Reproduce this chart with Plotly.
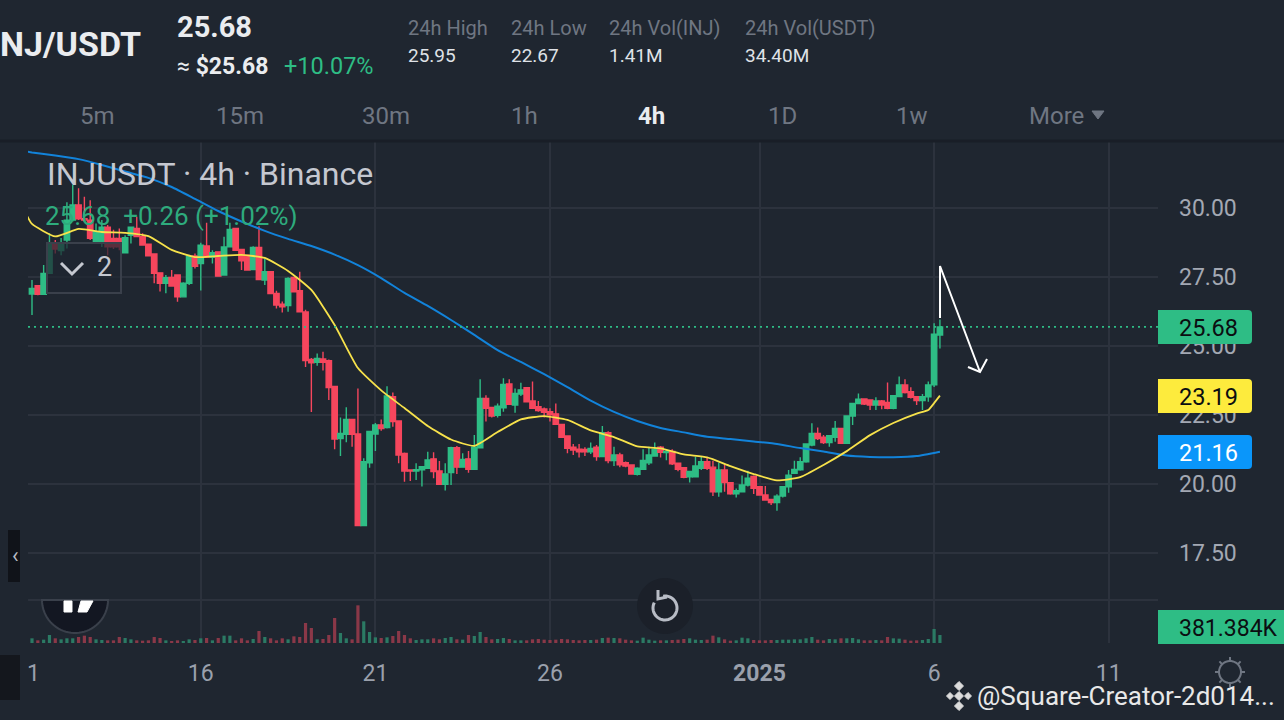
import numpy as np
import pandas as pd
import plotly.graph_objects as go

# 4h candles
open_prices = [
    26.87,27.17,26.86,27.62,28.7,28.45,28.83,29.55,30.1,29.6,
    29.55,28.77,28.77,29.29,28.89,28.89,28.37,29.0,29.25,28.95,
    28.68,28.32,27.64,27.26,27.47,27.56,26.77,27.26,28.25,27.98,
    28.61,28.2,28.4,27.56,28.58,29.25,28.49,28.28,27.76,28.56,
    27.38,27.68,26.89,26.5,26.45,27.47,26.99,26.22,24.5,24.4,
    24.52,24.46,23.52,21.64,21.79,22.33,21.8,18.48,20.76,21.8,
    22.13,22.03,23.15,22.27,21.1,20.5,20.46,20.5,20.56,20.9,
    20.46,19.98,20.4,21.3,20.6,20.9,20.52,21.3,23.09,22.76,
    22.48,22.75,23.61,22.85,23.25,23.48,23.0,22.79,22.71,22.61,
    22.53,22.15,21.73,21.32,21.25,21.24,21.16,21.32,20.98,21.85,
    20.84,21.04,20.76,20.68,20.34,20.52,20.76,21.0,21.32,21.13,
    21.17,20.74,20.58,20.25,20.25,20.56,20.8,20.6,19.71,20.5,
    20.04,19.63,19.71,19.95,20.26,19.89,19.59,19.43,19.32,19.55,
    19.89,20.38,20.5,20.79,21.4,21.82,21.68,21.49,21.68,22.0,
    21.46,22.45,22.9,23.07,23.03,22.85,23.0,22.94,22.73,23.16,
    23.58,23.33,23.15,23.01,23.15,23.58,25.39]
high_prices = [
    27.38,27.2,27.92,29.07,28.83,28.9,30.2,30.82,30.7,30.4,
    30.27,29.43,29.55,29.37,29.2,29.25,29.0,29.3,29.67,29.07,
    28.7,28.34,27.65,27.56,27.74,27.56,27.3,28.28,28.34,28.73,
    29.45,28.46,28.42,28.95,29.45,29.27,28.5,28.29,28.6,29.33,
    28.16,27.7,26.99,26.6,27.48,27.48,27.68,26.3,24.55,24.72,
    24.78,24.5,23.55,22.4,22.77,22.35,23.45,20.92,21.9,22.2,
    22.33,23.53,23.3,22.28,21.13,20.5,20.74,20.62,21.16,21.14,
    20.82,20.74,21.34,21.37,21.1,21.18,21.76,23.78,23.2,22.76,
    22.91,23.82,23.78,23.45,23.66,23.49,23.7,23.0,22.76,22.73,
    22.91,22.16,21.74,21.44,21.44,21.32,21.49,21.4,22.09,21.9,
    21.34,21.12,20.8,20.7,20.6,21.25,21.34,21.49,21.37,21.22,
    21.25,20.75,20.6,20.44,20.98,20.98,20.96,20.83,20.76,20.71,
    20.05,19.83,20.3,20.47,20.3,19.9,19.92,19.45,19.62,19.9,
    20.5,20.83,20.96,21.44,22.19,22.04,21.76,21.76,22.27,22.0,
    22.46,22.92,23.27,23.1,23.06,23.13,23.03,23.67,23.2,23.88,
    23.78,23.49,23.18,23.25,23.7,25.81,25.95]
low_prices = [
    26.11,26.83,26.85,27.6,28.34,28.28,28.52,29.5,29.55,29.5,
    28.83,28.7,28.58,28.28,28.5,28.46,28.35,28.7,28.94,28.64,
    28.25,27.26,26.96,26.9,27.14,26.59,26.75,27.2,27.8,27.0,
    28.2,27.98,27.5,27.55,28.57,28.43,27.74,27.72,27.74,27.37,
    27.2,26.87,26.35,26.2,26.23,26.93,26.22,24.23,22.6,24.27,
    24.1,23.03,21.25,21.0,21.5,21.34,18.48,18.48,20.58,21.18,
    21.92,22.0,22.06,20.74,20.07,20.1,20.13,19.9,20.55,20.2,
    19.97,19.75,19.95,20.35,20.59,20.4,20.5,21.28,22.25,22.4,
    22.4,22.61,22.87,22.57,23.18,22.96,22.72,22.61,22.4,22.25,
    22.13,21.67,21.1,21.04,20.95,21.0,21.08,20.83,20.97,20.74,
    20.64,20.6,20.6,20.34,20.3,20.5,20.68,20.98,20.95,20.85,
    20.68,20.45,20.2,20.04,20.23,20.5,20.5,19.55,19.53,19.71,
    19.6,19.5,19.68,19.9,19.63,19.57,19.38,19.23,19.02,19.5,
    19.67,20.35,20.47,20.76,21.36,21.58,21.44,21.34,21.52,21.45,
    21.45,22.13,22.88,22.85,22.67,22.67,22.7,22.7,22.7,23.14,
    23.27,23.09,22.85,22.67,22.97,23.5,24.9]
close_prices = [
    27.07,26.86,27.62,28.7,28.5,28.7,29.55,30.1,29.6,29.55,
    28.89,29.13,29.29,28.58,28.58,28.58,28.91,29.29,28.95,28.65,
    28.26,27.62,27.26,27.46,27.16,26.77,27.26,28.25,27.88,28.64,
    28.2,28.37,27.52,28.58,29.21,28.46,28.08,27.74,28.56,27.4,
    27.68,26.89,26.47,26.41,27.44,26.95,26.23,24.46,24.38,24.54,
    24.4,23.48,21.62,21.82,22.33,21.79,18.48,20.8,21.89,22.13,
    22.0,23.18,22.25,21.04,20.46,20.46,20.51,20.62,20.86,20.44,
    19.98,20.35,21.3,20.6,20.88,20.52,21.32,23.09,22.73,22.45,
    22.81,23.6,22.88,23.27,23.4,22.97,22.73,22.65,22.59,22.5,
    22.15,21.68,21.28,21.22,21.16,21.16,21.28,20.98,21.85,20.84,
    21.04,20.68,20.64,20.35,20.56,20.84,21.04,21.24,21.14,21.17,
    20.72,20.52,20.23,20.44,20.64,20.8,20.56,19.71,20.5,20.04,
    19.63,19.75,19.95,20.2,19.83,19.59,19.41,19.32,19.55,19.89,
    20.31,20.52,20.8,21.44,21.82,21.64,21.49,21.74,22.0,21.46,
    22.45,22.91,23.06,22.89,22.85,23.0,22.85,22.73,23.19,23.58,
    23.3,23.13,23.01,23.15,23.58,25.42,25.68]
# volume in thousands
volumes_k = [
    223,127,159,382,223,175,223,223,286,350,
    286,175,143,127,127,286,239,175,127,111,
    127,286,239,127,95,127,95,175,143,223,
    239,127,239,350,350,127,223,127,191,572,
    286,223,127,223,175,318,286,954,716,175,
    191,382,1193,477,223,175,1797,1034,525,270,
    239,270,334,572,382,223,143,175,175,223,
    175,239,286,175,159,382,334,525,286,175,
    191,239,191,127,127,127,175,191,159,143,
    159,191,175,143,127,143,143,159,239,254,
    239,223,159,127,111,254,159,111,127,127,
    143,159,191,223,159,143,159,350,270,175,
    111,127,254,223,143,127,127,143,143,159,
    159,175,175,223,286,159,127,191,175,223,
    223,239,175,127,127,143,127,286,223,207,
    159,111,127,143,191,668,381]

# moving averages, sampled at some candles
yellow_idx = [-1,0,4,8,12,16,20,24,28,32,36,40,44,48,52,56,60,64,68,72,76,80,84,88,92,
              96,100,104,108,112,116,120,124,128,132,136,140,144,148,152,154,155,156]
yellow_ma = [29.77,29.41,28.96,29.23,29.12,29.09,28.97,28.47,28.21,28.25,28.29,28.18,27.71,
             27.02,25.75,24.19,23.38,22.74,22.09,21.6,21.37,21.87,22.33,22.45,22.31,
             21.93,21.69,21.35,21.28,21.06,20.95,20.64,20.35,20.12,20.24,20.68,21.18,
             21.76,22.2,22.54,22.67,22.92,23.19]
blue_idx = [-1,0,4,8,12,16,20,24,28,32,36,40,44,48,52,56,60,64,68,72,76,80,84,88,92,96,
            100,104,108,112,116,120,124,128,132,136,140,144,148,152,156]
blue_ma = [32.04,32.0,31.89,31.76,31.55,31.31,31.08,30.75,30.32,29.88,29.5,29.16,28.87,28.61,
           28.3,27.92,27.45,26.91,26.44,25.93,25.39,24.84,24.41,23.97,23.5,23.01,
           22.6,22.27,22.02,21.86,21.7,21.62,21.53,21.44,21.29,21.17,21.02,20.97,20.96,21.0,21.16]

price_ticks = [17.5, 20, 22.5, 25, 27.5, 30]
date_ticks = ["2024-12-16", "2024-12-21", "2024-12-26", "2025-01-01", "2025-01-06", "2025-01-11"]
date_labels = ["16", "21", "26", "<b>2025</b>", "6", "11"]

last_price = 25.68
stats_head = ["24h High", "24h Low", "24h Vol(INJ)", "24h Vol(USDT)"]
stats_vals = ["25.95", "22.67", "1.41M", "34.40M"]
intervals = ["5m", "15m", "30m", "1h", "4h", "1D", "1w", "More"]

BG = "#1f2630"
GRID = "#2c323d"
GREEN = "#2ebd85"
RED = "#f6465d"
W, H = 1284, 720


def px(x):
    return x / W


def py(y):
    return 1 - y / H


def label(x, y, text, size, color, anchor="left", font="Roboto", bg=None):
    fig.add_annotation(x=px(x), y=py(y), xref="paper", yref="paper", text=text, showarrow=False,
                       xanchor=anchor, yanchor="middle", bgcolor=bg, borderpad=0,
                       font=dict(family=font, size=size, color=color))


def pline(points, color, width=2, fill=None, close=False, layer="above"):
    d = "M " + " L ".join(f"{px(a):.5f},{py(b):.5f}" for a, b in points) + (" Z" if close else "")
    fig.add_shape(type="path", path=d, xref="paper", yref="paper", layer=layer,
                  line=dict(color=color, width=width), fillcolor=fill)


def price_box(x0, x1, y0, y1, color):
    # rounded only on the right
    d = (f"M {px(x0)},{py(y0)} L {px(x1-4)},{py(y0)} Q {px(x1)},{py(y0)} {px(x1)},{py(y0+4)} "
         f"L {px(x1)},{py(y1-4)} Q {px(x1)},{py(y1)} {px(x1-4)},{py(y1)} L {px(x0)},{py(y1)} Z")
    fig.add_shape(type="path", path=d, xref="paper", yref="paper", layer="above",
                  line=dict(width=0), fillcolor=color)


t0 = pd.Timestamp("2024-12-11 04:00")
step = pd.Timedelta(hours=4)
times = pd.date_range(t0, periods=len(close_prices), freq="4h")
vol_colors = ["#2b7a64" if c >= o else "#8a3848" for o, c in zip(open_prices, close_prices)]

fig = go.Figure()
fig.add_trace(go.Bar(x=times, y=[v * 1000 for v in volumes_k], yaxis="y2", marker=dict(color=vol_colors, line_width=0),
                     width=[3.2 / 5.82 * step.total_seconds() * 1000] * len(times)))
fig.add_trace(go.Candlestick(x=times, open=open_prices, high=high_prices, low=low_prices, close=close_prices,
                             increasing=dict(line=dict(color=GREEN, width=1.4), fillcolor=GREEN),
                             decreasing=dict(line=dict(color=RED, width=1.4), fillcolor=RED),
                             whiskerwidth=0))
fig.add_trace(go.Scatter(x=[t0 + step * i for i in blue_idx], y=blue_ma, mode="lines",
                         line=dict(color="#1283da", width=2, shape="spline", smoothing=0.5)))
fig.add_trace(go.Scatter(x=[t0 + step * i for i in yellow_idx], y=yellow_ma, mode="lines",
                         line=dict(color="#f7e24b", width=1.8, shape="spline", smoothing=0.5)))

fig.update_layout(
    width=W, height=H, margin=dict(l=0, r=0, t=0, b=0), showlegend=False,
    paper_bgcolor=BG, plot_bgcolor=BG, boxgap=0.08, boxgroupgap=0,
    xaxis=dict(type="date", domain=[px(28), px(1158)], anchor="y2", rangeslider=dict(visible=False),
               range=[t0 - step * 0.687, t0 + step * 193.47], tickvals=date_ticks, ticktext=date_labels,
               showgrid=True, gridcolor=GRID, gridwidth=2, zeroline=False, showline=False, ticks="",
               ticklabelstandoff=14, tickfont=dict(family="Roboto", size=23, color="#9aa0ac")),
    yaxis=dict(domain=[py(600), py(142)], range=[15.786, 32.38], side="right", anchor="x",
               tickvals=price_ticks, tickformat=".2f", showgrid=True, gridcolor=GRID, gridwidth=2,
               zeroline=False, showline=False, ticks="", ticklabelstandoff=20,
               tickfont=dict(family="Roboto", size=23, color="#a3a8b3")),
    yaxis2=dict(domain=[py(643), py(600)], range=[0, 2051000], anchor="x", side="right",
                showgrid=False, zeroline=False, showticklabels=False, ticks=""),
)

# last price dotted line, pane separator
fig.add_shape(type="line", xref="paper", yref="y", x0=px(28), x1=px(1158), y0=last_price, y1=last_price,
              line=dict(color=GREEN, width=1.6, dash="2px,4px"), layer="above")
pline([(28, 600), (1158, 600)], GRID, 2, layer="below")
pline([(0, 141), (W, 141)], "#191e27", 3)

# header
label(142, 44, "<b>INJ/USDT</b>", 34, "#eaecef", "right")
label(176, 27, "<b>25.68</b>", 29, "#eaecef")
label(176, 66, "≈ <b>$25.68</b>", 23, "#eaecef")
label(283, 66, "+10.07%", 23.5, GREEN)
for x, a, b in zip([407, 510, 608, 744], stats_head, stats_vals):
    label(x, 28, a, 20, "#6f7682")
    label(x, 56, b, 19, "#dfe2e7")
for x, t in zip([97, 240, 386, 524, 652, 782, 912, 1056], intervals):
    if t == "4h":
        label(x, 116, "<b>4h</b>", 24, "#eaecef", "center")
    else:
        label(x, 116, t, 24, "#6f7682", "center")
pline([(1092, 111), (1104, 111), (1098, 119)], "#6f7682", 1, "#6f7682", True)

# chart legend
label(46, 174, "INJUSDT · 4h · Binance", 32, "#c5c8d0")
label(44, 216, "25.68  +0.26 (+1.02%)", 26, "#2eab7d")
fig.add_shape(type="rect", xref="paper", yref="paper", x0=px(47), x1=px(121), y0=py(293), y1=py(243), layer="above",
              line=dict(color="#3a404b", width=2), fillcolor="rgba(31,38,48,0.72)")
pline([(61, 263), (72, 274), (83, 263)], "#c5c8d0", 3)
label(104, 267, "2", 27, "#c5c8d0", "center")

# axis price tags
price_box(1158, 1252, 310, 344, GREEN)
label(1208, 328, "25.68", 23.5, "#0b0e11", "center")
price_box(1158, 1252, 379, 413, "#fdeb3d")
label(1208, 397, "23.19", 23.5, "#0b0e11", "center")
price_box(1158, 1252, 435, 469, "#0a96fa")
label(1208, 453, "21.16", 23.5, "#ffffff", "center")
price_box(1158, 1290, 610, 644, GREEN)
label(1178, 628, "381.384K", 23, "#0b0e11")

# hand drawn arrow
pline([(940, 318), (940, 266), (980, 372)], "#ffffff", 2)
pline([(968, 367), (980, 372), (987, 359)], "#ffffff", 2)

# left handle and cut off date label
fig.add_shape(type="rect", xref="paper", yref="paper", x0=px(8), x1=px(20), y0=py(582), y1=py(530), layer="above",
              line=dict(width=0), fillcolor="#101319")
label(15, 555, "‹", 22, "#b8bcc5", "center")
label(33, 673, "1", 23, "#9aa0ac", "center")
fig.add_shape(type="rect", xref="paper", yref="paper", x0=0, x1=px(20), y0=py(700), y1=py(655), layer="above",
              line=dict(width=0), fillcolor="#14171d")

# logo half disc under the pane line
ang = np.linspace(0, np.pi, 40)
pline([(75 + 33 * np.cos(a), 600 + 33 * np.sin(a)) for a in ang], "#3a404b", 2, "#131722", True)
pline([(64, 601), (72, 601), (72, 612), (64, 612)], "#ffffff", 1, "#ffffff", True)
pline([(81, 601), (93, 601), (87, 612), (78, 612)], "#ffffff", 1, "#ffffff", True)

# replay button
ang = np.linspace(0, 2 * np.pi, 60)
pline([(665 + 28 * np.cos(a), 606 + 28 * np.sin(a)) for a in ang], "#1b2029", 0, "#1b2029", True)
ang = np.linspace(-np.pi * 0.55, np.pi * 1.15, 40)
pline([(665 + 12 * np.cos(a), 608 + 12 * np.sin(a)) for a in ang], "#b8bcc5", 3)
pline([(658, 590), (658, 599), (667, 597)], "#b8bcc5", 3)

# settings gear
ang = np.linspace(0, 2 * np.pi, 40)
pline([(1230 + 11 * np.cos(a), 672 + 11 * np.sin(a)) for a in ang], "#6f7682", 2)
for a in np.arange(0, 2 * np.pi, np.pi / 4):
    pline([(1230 + 11 * np.cos(a), 672 + 11 * np.sin(a)), (1230 + 15 * np.cos(a), 672 + 15 * np.sin(a))], "#6f7682", 2)

# watermark
label(976, 696, "@Square-Creator-2d014...", 26, "#e8e8e8")
for cx, cy, r in [(959, 696, 4.5), (950, 696, 3.5), (968, 696, 3.5), (959, 686, 4.5), (959, 706, 4.5)]:
    pline([(cx - r, cy), (cx, cy - r), (cx + r, cy), (cx, cy + r)], "#dcdcdc", 1, "#dcdcdc", True)

fig.write_html("out.html", post_script="document.body.style.margin='0';", config={"displayModeBar": False})
